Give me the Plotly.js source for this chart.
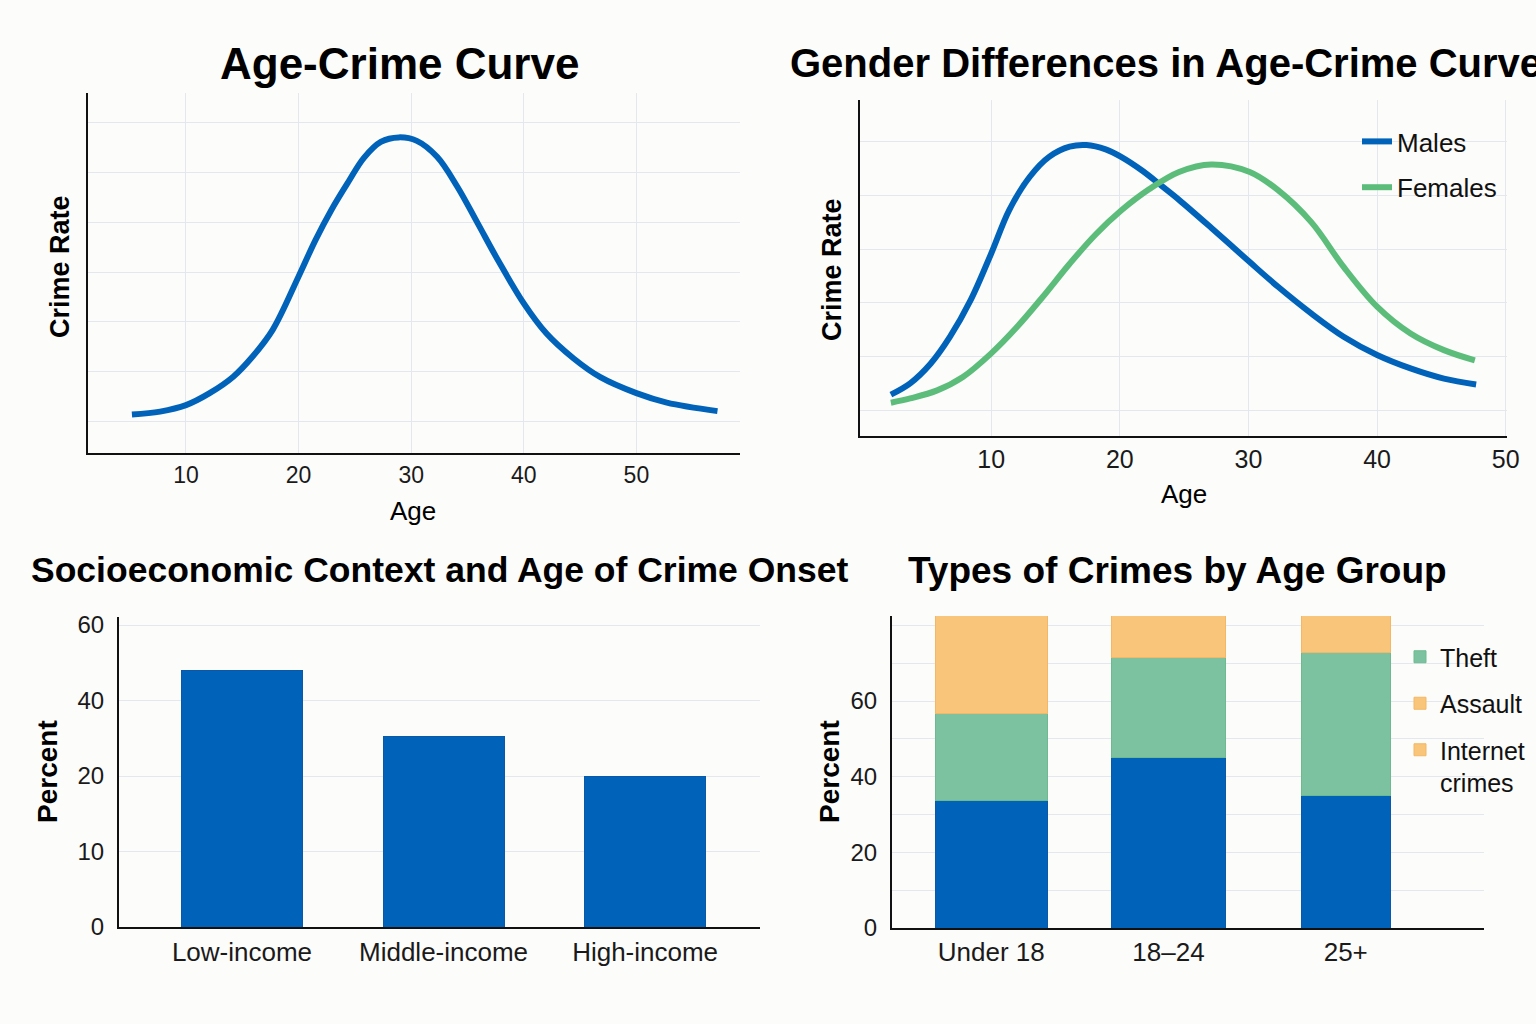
<!DOCTYPE html>
<html>
<head>
<meta charset="utf-8">
<script src="https://cdn.plot.ly/plotly-3.0.1.min.js"></script>
<style>
  html, body { margin: 0; padding: 0; background: #fcfcfa; }
  #chart { width: 1536px; height: 1024px; }
</style>
</head>
<body>
<div id="chart"></div>
<script>
// Age-crime curve (top left)
var ageAll = [5.2, 7.7, 10, 12.1, 14.2, 15.9, 17.7, 20, 21.5, 22.9, 24.4, 25.8, 27.3, 28.9, 30.5, 32.3, 34.1, 35.9, 37.7, 40, 42, 44.4, 46.8, 50, 52.7, 57.2];
var rateAll = [0.14, 0.2, 0.33, 0.57, 0.9, 1.3, 1.84, 2.91, 3.64, 4.24, 4.8, 5.29, 5.61, 5.7, 5.63, 5.31, 4.71, 3.98, 3.24, 2.37, 1.77, 1.27, 0.89, 0.57, 0.38, 0.21];

// Gender curves (top right)
var ageMales = [2.2, 3.7, 5.3, 6.8, 8.4, 10, 11.4, 13, 14.5, 16.1, 17.4, 18.9, 20.1, 21.7, 23.3, 24.6, 27.1, 30.1, 32.3, 34.9, 37.4, 40, 42.6, 45.2, 47.7];
var rateMales = [0.29, 0.5, 0.87, 1.37, 2.05, 2.92, 3.73, 4.35, 4.72, 4.91, 4.94, 4.86, 4.72, 4.47, 4.17, 3.92, 3.4, 2.76, 2.3, 1.8, 1.37, 1.03, 0.78, 0.59, 0.48];
var ageFemales = [2.2, 3.7, 5.8, 7.8, 10, 12, 14, 16.1, 18.1, 20.1, 22.3, 24.6, 27.1, 30.1, 32.3, 34.9, 37.4, 40, 42.6, 45.2, 47.6];
var rateFemales = [0.14, 0.22, 0.37, 0.62, 1.06, 1.55, 2.11, 2.73, 3.27, 3.72, 4.12, 4.44, 4.58, 4.44, 4.1, 3.5, 2.67, 1.93, 1.43, 1.12, 0.93];

// Socioeconomic onset (bottom left)
var incomeGroups = ['Low-income', 'Middle-income', 'High-income'];
var onsetValues = [51, 37.9, 30];
var onsetTickVals = [0, 15, 30, 45, 60];
var onsetTickText = ['0', '10', '20', '40', '60'];

// Crime types by age group (bottom right)
var ageGroups = ['Under 18', '18\u201324', '25+'];
var baseValues = [33.7, 45.1, 35.0];
var theftValues = [23.1, 26.3, 37.9];
var assaultValues = [43.2, 28.6, 27.1];
var typeTickVals = [0, 10, 20, 30, 40, 50, 60, 70, 80];
var typeTickText = ['0', '', '20', '', '40', '', '60', '', ''];

var blue = '#0063b9';
var green = '#5cbd7b';
var barGreen = '#7dc2a0';
var barOrange = '#f9c57b';
var font = 'Liberation Sans, Arial, sans-serif';
var grid = '#e4e8ee';
var barWidths = [0.63, 0.64, 0.5];

var traces = [
    {
        x: ageAll, y: rateAll, type: 'scatter', mode: 'lines',
        line: {color: blue, width: 6, shape: 'spline', smoothing: 1},
        xaxis: 'x', yaxis: 'y', showlegend: false, name: 'Crime rate'
    },
    {
        x: ageMales, y: rateMales, type: 'scatter', mode: 'lines', name: 'Males',
        line: {color: blue, width: 6, shape: 'spline', smoothing: 1},
        xaxis: 'x2', yaxis: 'y2', legend: 'legend', legendgroup: 'm'
    },
    {
        x: ageFemales, y: rateFemales, type: 'scatter', mode: 'lines', name: 'Females',
        line: {color: green, width: 6, shape: 'spline', smoothing: 1},
        xaxis: 'x2', yaxis: 'y2', legend: 'legend', legendgroup: 'f'
    },
    {
        x: incomeGroups, y: onsetValues, type: 'bar', width: 0.6,
        marker: {color: blue, line: {color: '#0a58a8', width: 1}},
        xaxis: 'x3', yaxis: 'y3', showlegend: false, name: 'Percent'
    },
    {
        x: ageGroups, y: baseValues, type: 'bar', width: barWidths,
        marker: {color: blue, line: {color: '#0a58a8', width: 1}},
        xaxis: 'x4', yaxis: 'y4', showlegend: false, name: 'Other'
    },
    {
        x: ageGroups, y: theftValues, type: 'bar', width: barWidths, name: 'Theft',
        marker: {color: barGreen, line: {color: '#6cbb90', width: 1}},
        xaxis: 'x4', yaxis: 'y4', legend: 'legend2', legendgroup: 't'
    },
    {
        x: ageGroups, y: assaultValues, type: 'bar', width: barWidths, name: 'Assault',
        marker: {color: barOrange, line: {color: '#f3b865', width: 1}},
        xaxis: 'x4', yaxis: 'y4', legend: 'legend2', legendgroup: 'a'
    },
    {
        x: ageGroups, y: [null, null, null], type: 'bar', width: barWidths, name: 'Internet<br>crimes',
        marker: {color: barOrange, line: {color: '#f3b865', width: 1}},
        xaxis: 'x4', yaxis: 'y4', legend: 'legend2', legendgroup: 'i'
    }
];

function px(v) { return v / 1536; }
function py(v) { return 1 - v / 1024; }

function label(text, x, y, size, bold, angle) {
    return {
        text: text, x: px(x), y: py(y), xref: 'paper', yref: 'paper',
        xanchor: 'center', yanchor: 'middle', textangle: angle || 0, showarrow: false,
        font: {family: font, size: size, weight: bold ? 700 : 400, color: '#000'}
    };
}

var titleLeft = label('Gender Differences in Age-Crime Curve', 788, 63, 40, true);
titleLeft.xanchor = 'left';

var layout = {
    width: 1536, height: 1024,
    margin: {l: 0, r: 0, t: 0, b: 0},
    paper_bgcolor: '#fcfcfa', plot_bgcolor: '#fcfcfa',
    barmode: 'stack',
    font: {family: font, color: '#111'},
    xaxis: {
        domain: [px(88), px(740)], anchor: 'y', range: [1.3, 59.2],
        tickvals: [10, 20, 30, 40, 50], showgrid: true, gridcolor: grid, gridwidth: 1,
        showline: true, linecolor: '#111', linewidth: 2, ticks: '', ticklabelstandoff: 0,
        tickfont: {family: font, size: 23, color: '#1a1a1a'}, zeroline: false
    },
    yaxis: {
        domain: [py(453), py(93)], anchor: 'x', range: [-0.63, 6.59],
        dtick: 1, showgrid: true, gridcolor: grid, showticklabels: false,
        showline: true, linecolor: '#111', linewidth: 2, ticks: '', zeroline: false
    },
    xaxis2: {
        domain: [px(860), px(1507)], anchor: 'y2', range: [-0.2, 50.1],
        tickvals: [10, 20, 30, 40, 50], showgrid: true, gridcolor: grid,
        showline: true, linecolor: '#111', linewidth: 2, ticks: '', ticklabelstandoff: 0,
        tickfont: {family: font, size: 25, color: '#1a1a1a'}, zeroline: false
    },
    yaxis2: {
        domain: [py(436), py(100)], anchor: 'x2', range: [-0.48, 5.78],
        dtick: 1, showgrid: true, gridcolor: grid, showticklabels: false,
        showline: true, linecolor: '#111', linewidth: 2, ticks: '', zeroline: false
    },
    xaxis3: {
        domain: [px(119), px(760)], anchor: 'y3', range: [-0.61, 2.57],
        showgrid: false, showline: true, linecolor: '#111', linewidth: 2, ticks: '',
        ticklabelstandoff: 1, tickfont: {family: font, size: 26, color: '#1a1a1a'}
    },
    yaxis3: {
        domain: [py(927), py(617)], anchor: 'x3', range: [0, 61.6],
        tickvals: onsetTickVals, ticktext: onsetTickText, showgrid: true, gridcolor: grid,
        showline: true, linecolor: '#111', linewidth: 2, ticks: '', ticklabelstandoff: 8,
        tickfont: {family: font, size: 24, color: '#1a1a1a'}, zeroline: false
    },
    xaxis4: {
        domain: [px(892), px(1484)], anchor: 'y4', range: [-0.56, 2.78],
        showgrid: false, showline: true, linecolor: '#111', linewidth: 2, ticks: '',
        ticklabelstandoff: 0, tickfont: {family: font, size: 26, color: '#1a1a1a'}
    },
    yaxis4: {
        domain: [py(928), py(616)], anchor: 'x4', range: [0, 82.5],
        tickvals: typeTickVals, ticktext: typeTickText, showgrid: true, gridcolor: grid,
        showline: true, linecolor: '#111', linewidth: 2, ticks: '', ticklabelstandoff: 8,
        tickfont: {family: font, size: 24, color: '#1a1a1a'}, zeroline: false
    },
    legend: {
        x: px(1357), y: py(118), xanchor: 'left', yanchor: 'top',
        bgcolor: 'rgba(0,0,0,0)', font: {family: font, size: 26, color: '#111'},
        tracegroupgap: 9, traceorder: 'grouped'
    },
    legend2: {
        x: px(1400), y: py(634), xanchor: 'left', yanchor: 'top', valign: 'top',
        bgcolor: 'rgba(0,0,0,0)', font: {family: font, size: 25, color: '#111'},
        tracegroupgap: 11, traceorder: 'grouped'
    },
    annotations: [
        label('Age-Crime Curve', 399, 63, 44, true),
        titleLeft,
        label('Socioeconomic Context and Age of Crime Onset', 439, 570, 35.5, true),
        label('Types of Crimes by Age Group', 1177, 570, 37, true),
        label('Age', 413, 511, 26, false),
        label('Age', 1184, 494, 26, false),
        label('Crime Rate', 60, 267, 27, true, -90),
        label('Crime Rate', 832, 270, 27, true, -90),
        label('Percent', 47, 772, 28, true, -90),
        label('Percent', 829, 772, 28, true, -90)
    ]
};

Plotly.newPlot('chart', traces, layout, {displayModeBar: false, staticPlot: true});
</script>
</body>
</html>
